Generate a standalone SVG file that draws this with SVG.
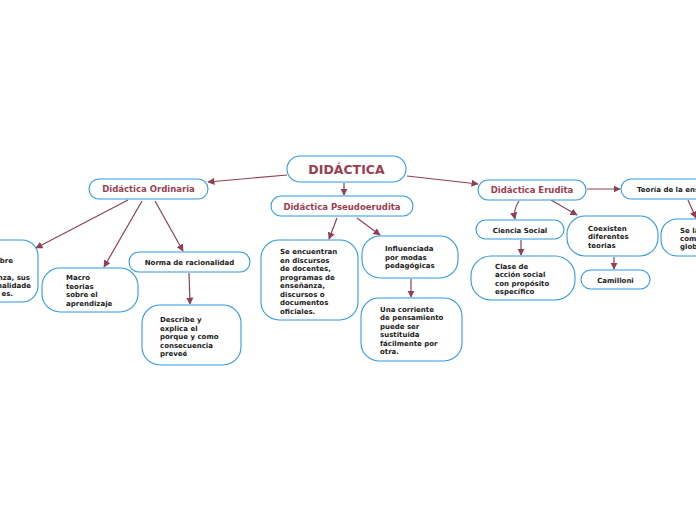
<svg xmlns="http://www.w3.org/2000/svg" width="696" height="520" viewBox="0 0 696 520">
<defs>
<style>
.n{fill:#fff;stroke:#2e9ae0;stroke-width:1.1}
.t{font-family:"DejaVu Sans",Verdana,sans-serif;font-weight:bold;font-size:7px;fill:#1a1a1a}
.h{font-family:"DejaVu Sans",Verdana,sans-serif;font-weight:bold;font-size:8.5px;fill:#9b4050}
.e{stroke:#8e4153;stroke-width:1.2;fill:none;marker-end:url(#a)}
</style>
<marker id="a" viewBox="0 0 10 10" refX="9" refY="5" markerWidth="6" markerHeight="6" orient="auto"><path d="M0,0L10,5L0,10z" fill="#8e4153"/></marker>
</defs>
<rect width="696" height="520" fill="#fff"/>
<g id="connectors">
<path class="e" d="M287,175L208,182"/>
<path class="e" d="M344,183L344,195"/>
<path class="e" d="M407,176L478,184"/>
<path class="e" d="M587,189L620,189"/>
<path class="e" d="M128,200L36,248"/>
<path class="e" d="M142,201L104,267"/>
<path class="e" d="M155,201L183,251"/>
<path class="e" d="M189,273L190,304"/>
<path class="e" d="M337,218L329,239"/>
<path class="e" d="M357,218L380,235"/>
<path class="e" d="M411,279L411,297"/>
<path class="e" d="M519,201Q513,210 515,219"/>
<path class="e" d="M551,200L577,215"/>
<path class="e" d="M521,240L521,255"/>
<path class="e" d="M614,257L614,269"/>
<path class="e" d="M688,200L696,218"/>
</g>
<g id="root"><rect class="n" x="287" y="156" width="119" height="26" rx="13"/><text x="346.5" y="174" text-anchor="middle" font-family="DejaVu Sans,sans-serif" font-weight="bold" font-size="12.5" fill="#9b4050">DIDÁCTICA</text></g>
<g id="ordinaria"><rect class="n" x="89" y="179" width="119" height="20" rx="10"/><text class="h" x="148.5" y="192" text-anchor="middle">Didáctica Ordinaria</text></g>
<g id="pseudo"><rect class="n" x="271" y="196" width="142" height="20" rx="10"/><text class="h" x="342" y="209.5" text-anchor="middle">Didáctica Pseudoerudita</text></g>
<g id="erudita"><rect class="n" x="478" y="180" width="108" height="20" rx="10"/><text class="h" x="532" y="193" text-anchor="middle">Didáctica Erudita</text></g>
<g id="teoria"><rect class="n" x="621" y="179" width="95" height="20" rx="10"/><text class="t" x="637" y="192">Teoría de la enseñanza</text></g>
<g id="left"><rect class="n" x="-60" y="240" width="98" height="62" rx="16"/><text class="t" text-anchor="end"><tspan x="13" y="263">sobre</tspan><tspan x="30" y="280">enseñanza, sus</tspan><tspan x="31" y="288">finalidade</tspan><tspan x="13" y="296">es.</tspan></text></g>
<g id="macro"><rect class="n" x="42" y="268" width="96" height="44" rx="18"/><text class="t"><tspan x="66" y="280">Macro</tspan><tspan x="66" y="289">teorias</tspan><tspan x="66" y="297">sobre el</tspan><tspan x="66" y="306">aprendizaje</tspan></text></g>
<g id="norma"><rect class="n" x="129" y="252" width="121" height="20" rx="10"/><text class="t" x="189.5" y="265" text-anchor="middle">Norma de racionalidad</text></g>
<g id="describe"><rect class="n" x="142" y="305" width="99" height="60" rx="18"/><text class="t"><tspan x="160" y="322">Describe y</tspan><tspan x="160" y="331">explica el</tspan><tspan x="160" y="339">porque y como</tspan><tspan x="160" y="348">consecuencia</tspan><tspan x="160" y="356">preveé</tspan></text></g>
<g id="encuentran"><rect class="n" x="261" y="240" width="97" height="80" rx="18"/><text class="t"><tspan x="280" y="254">Se encuentran</tspan><tspan x="280" y="263">en discursos</tspan><tspan x="280" y="271">de docentes,</tspan><tspan x="280" y="280">programas de</tspan><tspan x="280" y="288">enseñanza,</tspan><tspan x="280" y="297">discursos o</tspan><tspan x="280" y="305">documentos</tspan><tspan x="280" y="314">oficiales.</tspan></text></g>
<g id="influenciada"><rect class="n" x="362" y="236" width="96" height="42" rx="18"/><text class="t"><tspan x="385" y="251">Influenciada</tspan><tspan x="385" y="260">por modas</tspan><tspan x="385" y="268">pedagógicas</tspan></text></g>
<g id="corriente"><rect class="n" x="361" y="298" width="101" height="63" rx="18"/><text class="t"><tspan x="380" y="312">Una corriente</tspan><tspan x="380" y="320">de pensamiento</tspan><tspan x="380" y="329">puede ser</tspan><tspan x="380" y="337">sustituida</tspan><tspan x="380" y="346">fácilmente por</tspan><tspan x="380" y="354">otra.</tspan></text></g>
<g id="ciencia"><rect class="n" x="476" y="220" width="88" height="19" rx="9.5"/><text class="t" x="520" y="232.5" text-anchor="middle">Ciencia Social</text></g>
<g id="clase"><rect class="n" x="471" y="256" width="104" height="44" rx="20"/><text class="t"><tspan x="495" y="269">Clase de</tspan><tspan x="495" y="277">acción social</tspan><tspan x="495" y="286">con propósito</tspan><tspan x="495" y="294">específico</tspan></text></g>
<g id="coexisten"><rect class="n" x="567" y="216" width="91" height="40" rx="18"/><text class="t"><tspan x="588" y="231">Coexisten</tspan><tspan x="588" y="239">diferentes</tspan><tspan x="588" y="248">teorias</tspan></text></g>
<g id="camilloni"><rect class="n" x="581" y="270" width="69" height="19" rx="9.5"/><text class="t" x="615.5" y="282.5" text-anchor="middle">Camilloni</text></g>
<g id="right"><rect class="n" x="661" y="219" width="60" height="37" rx="16"/><text class="t"><tspan x="680" y="233">Se la</tspan><tspan x="680" y="241">comprende</tspan><tspan x="680" y="249">globalmente</tspan></text></g>
</svg>
